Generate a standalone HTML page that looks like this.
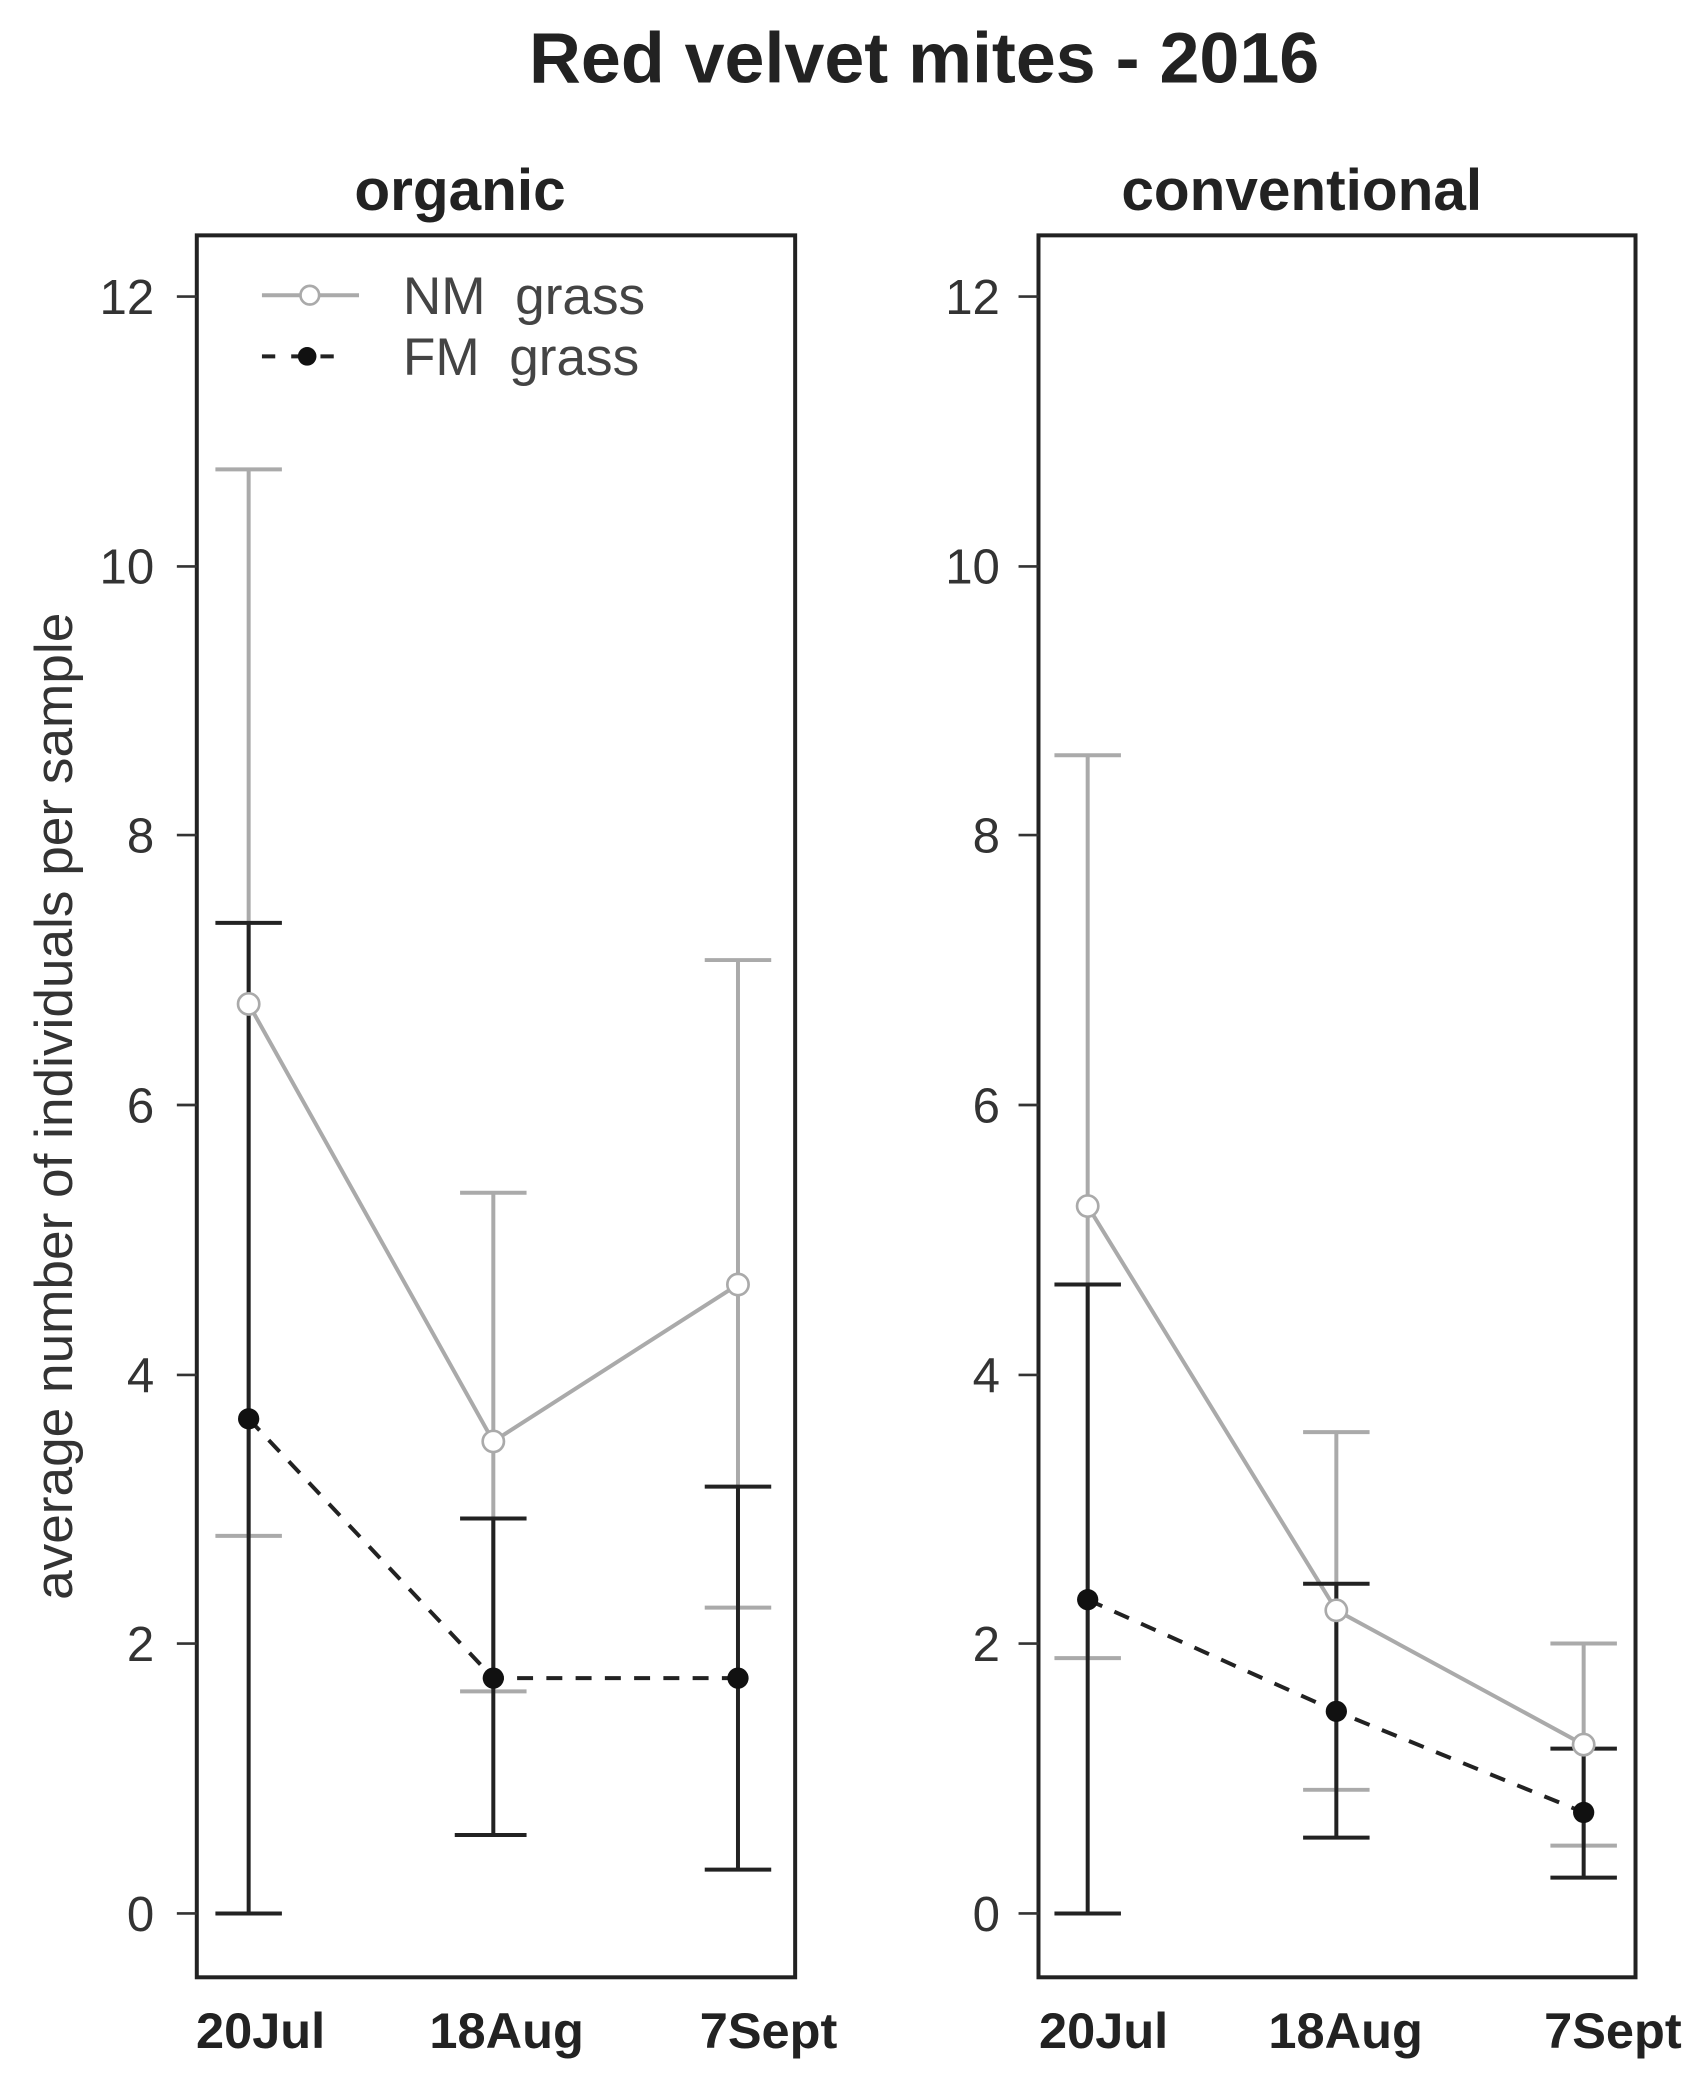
<!DOCTYPE html>
<html><head><style>html,body{margin:0;padding:0;background:#fff}svg{display:block}</style></head><body>
<svg width="1702" height="2089" viewBox="0 0 1280 1571" preserveAspectRatio="none" xmlns="http://www.w3.org/2000/svg" font-family="Liberation Sans, sans-serif">
<rect width="1280" height="1571" fill="#fff"/>
<text x="695" y="62" font-size="54" font-weight="bold" text-anchor="middle" fill="#222">Red velvet mites - 2016</text>
<text x="346" y="158" font-size="44" font-weight="bold" text-anchor="middle" fill="#222">organic</text>
<text x="979" y="158" font-size="44" font-weight="bold" text-anchor="middle" fill="#222">conventional</text>
<text transform="translate(54,832) rotate(-90)" font-size="40" text-anchor="middle" fill="#333">average number of individuals per sample</text>
<g stroke="#222" stroke-width="3" fill="none">
<rect x="148" y="177" width="450" height="1310"/>
<rect x="781" y="177" width="449" height="1310"/>
</g>
<g font-size="37" fill="#333" text-anchor="end">
<g stroke="#333" stroke-width="2">
<line x1="133" x2="148" y1="1439" y2="1439"/><line x1="133" x2="148" y1="1236" y2="1236"/><line x1="133" x2="148" y1="1034" y2="1034"/><line x1="133" x2="148" y1="831" y2="831"/><line x1="133" x2="148" y1="628" y2="628"/><line x1="133" x2="148" y1="426" y2="426"/><line x1="133" x2="148" y1="223" y2="223"/>
<line x1="766" x2="781" y1="1439" y2="1439"/><line x1="766" x2="781" y1="1236" y2="1236"/><line x1="766" x2="781" y1="1034" y2="1034"/><line x1="766" x2="781" y1="831" y2="831"/><line x1="766" x2="781" y1="628" y2="628"/><line x1="766" x2="781" y1="426" y2="426"/><line x1="766" x2="781" y1="223" y2="223"/>
</g>
<text x="116" y="1452">0</text><text x="116" y="1249">2</text><text x="116" y="1047">4</text><text x="116" y="844">6</text><text x="116" y="641">8</text><text x="116" y="439">10</text><text x="116" y="236">12</text>
<text x="752" y="1452">0</text><text x="752" y="1249">2</text><text x="752" y="1047">4</text><text x="752" y="844">6</text><text x="752" y="641">8</text><text x="752" y="439">10</text><text x="752" y="236">12</text>
</g>
<g font-size="38" font-weight="bold" fill="#222" text-anchor="middle">
<text x="196" y="1540">20Jul</text><text x="381" y="1540">18Aug</text><text x="578" y="1540">7Sept</text>
<text x="830" y="1540">20Jul</text><text x="1012" y="1540">18Aug</text><text x="1213" y="1540">7Sept</text>
</g>
<g stroke="#aaa" stroke-width="3" fill="none">
<line x1="187" y1="1155" x2="187" y2="353"/><line x1="162" x2="212" y1="1155" y2="1155"/><line x1="162" x2="212" y1="353" y2="353"/>
<line x1="371" y1="1272" x2="371" y2="897"/><line x1="346" x2="396" y1="1272" y2="1272"/><line x1="346" x2="396" y1="897" y2="897"/>
<line x1="555" y1="1209" x2="555" y2="722"/><line x1="530" x2="580" y1="1209" y2="1209"/><line x1="530" x2="580" y1="722" y2="722"/>
<polyline points="187,755 371,1084 555,966"/>
</g>
<g stroke="#222" stroke-width="3" fill="none">
<line x1="187" y1="1439" x2="187" y2="694"/><line x1="162" x2="212" y1="1439" y2="1439"/><line x1="162" x2="212" y1="694" y2="694"/>
<line x1="371" y1="1380" x2="371" y2="1142"/><line x1="342" x2="396" y1="1380" y2="1380"/><line x1="346" x2="396" y1="1142" y2="1142"/>
<line x1="555" y1="1406" x2="555" y2="1118"/><line x1="530" x2="580" y1="1406" y2="1406"/><line x1="530" x2="580" y1="1118" y2="1118"/>
<polyline points="187,1067 371,1262 555,1262" stroke-dasharray="12,10"/>
</g>
<g fill="#fff" stroke="#aaa" stroke-width="2"><circle cx="187" cy="755" r="8"/><circle cx="371" cy="1084" r="8"/><circle cx="555" cy="966" r="8"/></g>
<g fill="#111"><circle cx="187" cy="1067" r="8"/><circle cx="371" cy="1262" r="8"/><circle cx="555" cy="1262" r="8"/></g>
<g stroke="#aaa" stroke-width="3" fill="none">
<line x1="818" y1="1247" x2="818" y2="568"/><line x1="793" x2="843" y1="1247" y2="1247"/><line x1="793" x2="843" y1="568" y2="568"/>
<line x1="1005" y1="1346" x2="1005" y2="1077"/><line x1="980" x2="1030" y1="1346" y2="1346"/><line x1="980" x2="1030" y1="1077" y2="1077"/>
<line x1="1191" y1="1388" x2="1191" y2="1236"/><line x1="1166" x2="1216" y1="1388" y2="1388"/><line x1="1166" x2="1216" y1="1236" y2="1236"/>
<polyline points="818,907 1005,1211 1191,1312"/>
</g>
<g stroke="#222" stroke-width="3" fill="none">
<line x1="818" y1="1439" x2="818" y2="966"/><line x1="793" x2="843" y1="1439" y2="1439"/><line x1="793" x2="843" y1="966" y2="966"/>
<line x1="1005" y1="1382" x2="1005" y2="1191"/><line x1="980" x2="1030" y1="1382" y2="1382"/><line x1="980" x2="1030" y1="1191" y2="1191"/>
<line x1="1191" y1="1412" x2="1191" y2="1315"/><line x1="1166" x2="1216" y1="1412" y2="1412"/><line x1="1166" x2="1216" y1="1315" y2="1315"/>
<polyline points="818,1203 1005,1287 1191,1363" stroke-dasharray="12,10"/>
</g>
<g fill="#fff" stroke="#aaa" stroke-width="2"><circle cx="818" cy="907" r="8"/><circle cx="1005" cy="1211" r="8"/><circle cx="1191" cy="1312" r="8"/></g>
<g fill="#111"><circle cx="818" cy="1203" r="8"/><circle cx="1005" cy="1287" r="8"/><circle cx="1191" cy="1363" r="8"/></g>
<line x1="197" x2="270" y1="222" y2="222" stroke="#aaa" stroke-width="3"/>
<circle cx="233" cy="222" r="7" fill="#fff" stroke="#aaa" stroke-width="2"/>
<line x1="197" x2="262" y1="268" y2="268" stroke="#222" stroke-width="3" stroke-dasharray="10,12"/>
<circle cx="231" cy="268" r="7" fill="#111"/>
<text x="303" y="236" font-size="40" fill="#444" xml:space="preserve">NM  grass</text>
<text x="303" y="282" font-size="40" fill="#444" xml:space="preserve">FM  grass</text>
</svg>
</body></html>
